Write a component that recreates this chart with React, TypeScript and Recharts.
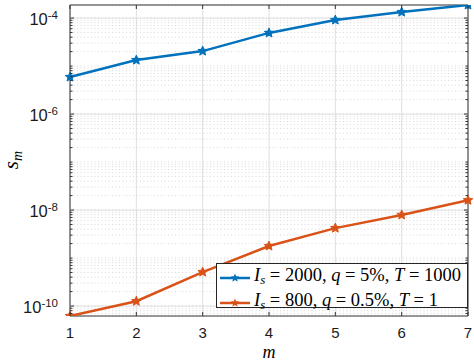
import React from "react"
import {
  CartesianGrid,
  Line,
  LineChart,
  ReferenceArea,
  ReferenceLine,
  XAxis,
  YAxis,
} from "recharts"

const mValues = [1, 2, 3, 4, 5, 6, 7]
const smHigh = [5.9e-6, 1.33e-5, 2.05e-5, 4.9e-5, 9.1e-5, 1.33e-4, 1.87e-4]
const smLow = [6.2e-11, 1.26e-10, 5.1e-10, 1.78e-9, 4.2e-9, 7.9e-9, 1.6e-8]
const xTicks = [1, 2, 3, 4, 5, 6, 7]
const majorExponents = [-10, -8, -6, -4]
const IsValues = ["2000", "800"]
const qValues = ["5%", "0.5%"]
const TValues = ["1000", "1"]
const colors = ["#0072BD", "#D95319"]

const data = mValues.map((m, i) => ({ m, high: smHigh[i], low: smLow[i] }))

const yMin = Math.min(...smLow)
const yMax = Math.max(...smHigh)

const majorValues = majorExponents.map((e) => Math.pow(10, e))
const yTicks: number[] = []
for (let e = -11; e <= -3; e++) {
  for (let k = 1; k <= 9; k++) {
    const v = k * Math.pow(10, e)
    if (v >= yMin && v <= yMax) yTicks.push(v)
  }
}

const LEFT = 70
const RIGHT = 468
const TOP = 5
const BOTTOM = 316
const AXIS = "#333333"
const FONT = "'Liberation Sans', Arial, sans-serif"
const SERIF = "'Liberation Serif', 'Times New Roman', serif"

const starPath = (x: number, y: number, r: number) => {
  let d = ""
  for (let i = 0; i < 10; i++) {
    const rad = i % 2 === 0 ? r : r * 0.45
    const a = -Math.PI / 2 + (i * Math.PI) / 5
    d += (i === 0 ? "M" : "L") + (x + rad * Math.cos(a)) + " " + (y + rad * Math.sin(a))
  }
  return d + "Z"
}

const StarDot = (props: any) => {
  const { cx, cy, stroke } = props
  if (cx == null || cy == null) return null
  return <path d={starPath(cx, cy, 5)} fill={stroke} stroke={stroke} strokeWidth={1} />
}

const XTick = (props: any) => {
  const { x, payload } = props
  return (
    <g>
      <line x1={x} x2={x} y1={BOTTOM} y2={BOTTOM - 4} stroke={AXIS} />
      <line x1={x} x2={x} y1={TOP} y2={TOP + 4} stroke={AXIS} />
      <text x={x} y={BOTTOM + 22} textAnchor="middle" fontFamily={FONT} fontSize={15} fill="#1a1a1a">
        {payload.value}
      </text>
    </g>
  )
}

const YTick = (props: any) => {
  const { y, payload } = props
  const v = payload.value
  const major = majorValues.some((mv) => Math.abs(mv - v) / mv < 1e-9)
  const len = major ? 4 : 2.5
  const exp = Math.round(Math.log10(v))
  return (
    <g>
      <line x1={LEFT} x2={LEFT + len} y1={y} y2={y} stroke={AXIS} />
      <line x1={RIGHT} x2={RIGHT - len} y1={y} y2={y} stroke={AXIS} />
      {major && (
        <text x={LEFT - 12} y={y + 7} textAnchor="end" fontFamily={FONT} fontSize={16.5} fill="#1a1a1a">
          10
          <tspan dy={-6.5} fontSize={11.5}>
            {String(exp)}
          </tspan>
        </text>
      )}
    </g>
  )
}

const LegendBox = () => (
  <div
    style={{
      position: "absolute",
      left: 216,
      top: 263,
      width: 252,
      border: "1px solid #262626",
      background: "#fff",
      fontFamily: SERIF,
      fontSize: 18.5,
      height: 45,
      boxSizing: "border-box",
      paddingTop: 1,
      lineHeight: "20px",
    }}
  >
    {IsValues.map((Is, i) => (
      <div key={Is} style={{ display: "flex", alignItems: "center", whiteSpace: "nowrap", color: "#000" }}>
        <svg width={34} height={14} style={{ marginLeft: 2, marginRight: 1 }}>
          <line x1={1} x2={31} y1={7} y2={7} stroke={colors[i]} strokeWidth={2.5} />
          <path d={starPath(16, 7, 4.5)} fill={colors[i]} />
        </svg>
        <span>
          <i>I</i>
          <sub style={{ fontSize: 13, fontStyle: "italic", verticalAlign: "-3px" }}>s</sub>
          {" = " + Is + ", "}
          <i>q</i>
          {" = " + qValues[i] + ", "}
          <i>T</i>
          {" = " + TValues[i]}
        </span>
      </div>
    ))}
  </div>
)

export default function App() {
  return (
    <div style={{ position: "absolute", left: 0, top: 0, width: 474, height: 363, background: "#fff" }}>
      <LineChart
        width={474}
        height={363}
        data={data}
        margin={{ top: TOP, right: 474 - RIGHT, bottom: 0, left: 0 }}
      >
        <CartesianGrid horizontal={false} stroke="#dedede" strokeWidth={1} />
        <CartesianGrid vertical={false} stroke="#cfcfcf" strokeWidth={0.8} strokeDasharray="1 2.5" />
        {majorValues.map((v) => (
          <ReferenceLine key={v} y={v} stroke="#dedede" strokeWidth={1} />
        ))}
        <XAxis
          dataKey="m"
          type="number"
          domain={[1, 7]}
          ticks={xTicks}
          axisLine={false}
          tickLine={false}
          tickSize={0}
          tickMargin={0}
          tick={<XTick />}
          interval={0}
          height={363 - BOTTOM}
        />
        <YAxis
          type="number"
          scale="log"
          domain={[yMin, yMax]}
          ticks={yTicks}
          allowDataOverflow
          axisLine={false}
          tickLine={false}
          tickSize={0}
          tickMargin={0}
          tick={<YTick />}
          interval={0}
          width={LEFT}
        />
        <Line
          dataKey="high"
          stroke={colors[0]}
          strokeWidth={2.5}
          dot={<StarDot />}
          isAnimationActive={false}
        />
        <Line
          dataKey="low"
          stroke={colors[1]}
          strokeWidth={2.5}
          dot={<StarDot />}
          isAnimationActive={false}
        />
        <ReferenceArea
          x1={1}
          x2={7}
          y1={yMin}
          y2={yMax}
          fill="none"
          stroke={AXIS}
          strokeWidth={1}
          ifOverflow="visible"
        />
        <text transform="rotate(-90 18 160)" x={18} y={160} textAnchor="middle" fontFamily={SERIF} fontSize={21} fontStyle="italic">
          s
          <tspan dy={4} fontSize={14}>
            m
          </tspan>
        </text>
        <text x={(LEFT + RIGHT) / 2} y={358} textAnchor="middle" fontFamily={SERIF} fontSize={18} fontStyle="italic">
          m
        </text>
      </LineChart>
      <LegendBox />
    </div>
  )
}
